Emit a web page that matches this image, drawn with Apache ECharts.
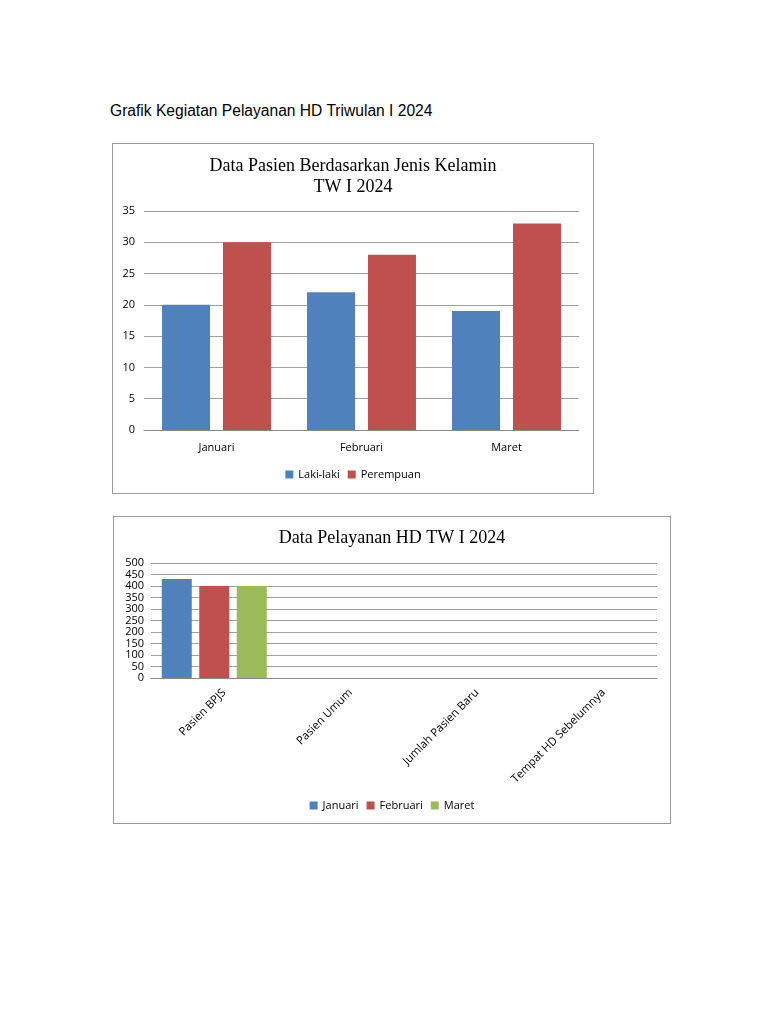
<!DOCTYPE html>
<html>
<head>
<meta charset="utf-8">
<script src="https://cdn.jsdelivr.net/npm/echarts@6/dist/echarts.min.js"></script>
<style>
body { margin:0; background:#fff; width:768px; height:1024px; position:relative; }
#header { position:absolute; left:110px; top:102px; font-family:"Liberation Sans", Arial, sans-serif; font-size:15.6px; color:#000; }
.box { position:absolute; border:1px solid #9a9a9a; box-sizing:border-box; background:#fff; }
#chart1 { left:112px; top:143px; width:482px; height:351px; }
#chart2 { left:113px; top:516px; width:558px; height:308px; }
</style>
</head>
<body>
<div id="header">Grafik Kegiatan Pelayanan HD Triwulan I 2024</div>
<div id="chart1" class="box"></div>
<div id="chart2" class="box"></div>
<script>
// chart 1 : jenis kelamin
var bulan = ['Januari', 'Februari', 'Maret'];
var lakiLaki = [20, 22, 19];
var perempuan = [30, 28, 33];

// chart 2 : pelayanan HD
var kategoriLayanan = ['Pasien BPJS', 'Pasien Umum', 'Jumlah Pasien Baru', 'Tempat HD Sebelumnya'];
var januari = [430, null, null, null];
var februari = [400, null, null, null];
var maret = [400, null, null, null];

var colors = ['#4F81BD', '#C0504D', '#9BBB59'];
var labelFont = '"Open Sans", "Noto Sans", sans-serif';

var chart1 = echarts.init(document.getElementById('chart1'));
chart1.setOption({
    animation: false,
    color: colors,
    title: {
        text: 'Data Pasien Berdasarkan Jenis Kelamin\nTW I 2024',
        left: 'center',
        top: 7,
        textStyle: { fontFamily: '"Liberation Serif", "Times New Roman", serif', fontSize: 18, fontWeight: 'normal', color: '#000', lineHeight: 21 }
    },
    grid: { left: 31, right: 14, top: 67, bottom: 63 },
    legend: {
        data: ['Laki-laki', 'Perempuan'],
        bottom: 8,
        left: 'center',
        icon: 'rect',
        itemWidth: 8,
        itemHeight: 8,
        itemGap: 8,
        textStyle: { fontFamily: labelFont, fontSize: 11, color: '#000' }
    },
    xAxis: {
        type: 'category',
        data: bulan,
        axisTick: { show: false },
        axisLine: { lineStyle: { color: '#888', width: 1 } },
        axisLabel: { fontFamily: labelFont, fontSize: 11, color: '#000', margin: 12 }
    },
    yAxis: {
        type: 'value',
        min: 0,
        max: 35,
        interval: 5,
        axisLine: { show: false },
        axisTick: { show: false },
        axisLabel: { fontFamily: labelFont, fontSize: 11, color: '#000', margin: 9 },
        splitLine: { lineStyle: { color: '#a0a0a0', width: 1 } }
    },
    series: [
        { name: 'Laki-laki', type: 'bar', data: lakiLaki, barWidth: 48, barGap: '27%' },
        { name: 'Perempuan', type: 'bar', data: perempuan, barWidth: 48, barGap: '27%' }
    ]
});

var chart2 = echarts.init(document.getElementById('chart2'));
chart2.setOption({
    animation: false,
    color: colors,
    title: {
        text: 'Data Pelayanan HD TW I 2024',
        left: 'center',
        top: 7,
        textStyle: { fontFamily: '"Liberation Serif", "Times New Roman", serif', fontSize: 18, fontWeight: 'normal', color: '#000' }
    },
    grid: { left: 37, right: 13, top: 46, bottom: 145 },
    legend: {
        data: ['Januari', 'Februari', 'Maret'],
        bottom: 7,
        left: 'center',
        icon: 'rect',
        itemWidth: 8,
        itemHeight: 8,
        itemGap: 8,
        textStyle: { fontFamily: labelFont, fontSize: 11, color: '#000' }
    },
    xAxis: {
        type: 'category',
        data: kategoriLayanan,
        axisTick: { show: false },
        axisLine: { lineStyle: { color: '#888', width: 1 } },
        axisLabel: { fontFamily: labelFont, fontSize: 11.3, color: '#000', rotate: 45, margin: 3, interval: 0, verticalAlign: 'top', lineHeight: 28 }
    },
    yAxis: {
        type: 'value',
        min: 0,
        max: 500,
        interval: 50,
        axisLine: { show: false },
        axisTick: { show: false },
        axisLabel: { fontFamily: labelFont, fontSize: 11, color: '#000', margin: 7, lineHeight: 11 },
        splitLine: { lineStyle: { color: '#a0a0a0', width: 1 } }
    },
    series: [
        { name: 'Januari', type: 'bar', data: januari, barWidth: 30, barGap: '25%' },
        { name: 'Februari', type: 'bar', data: februari, barWidth: 30, barGap: '25%' },
        { name: 'Maret', type: 'bar', data: maret, barWidth: 30, barGap: '25%' }
    ]
});
</script>
</body>
</html>
